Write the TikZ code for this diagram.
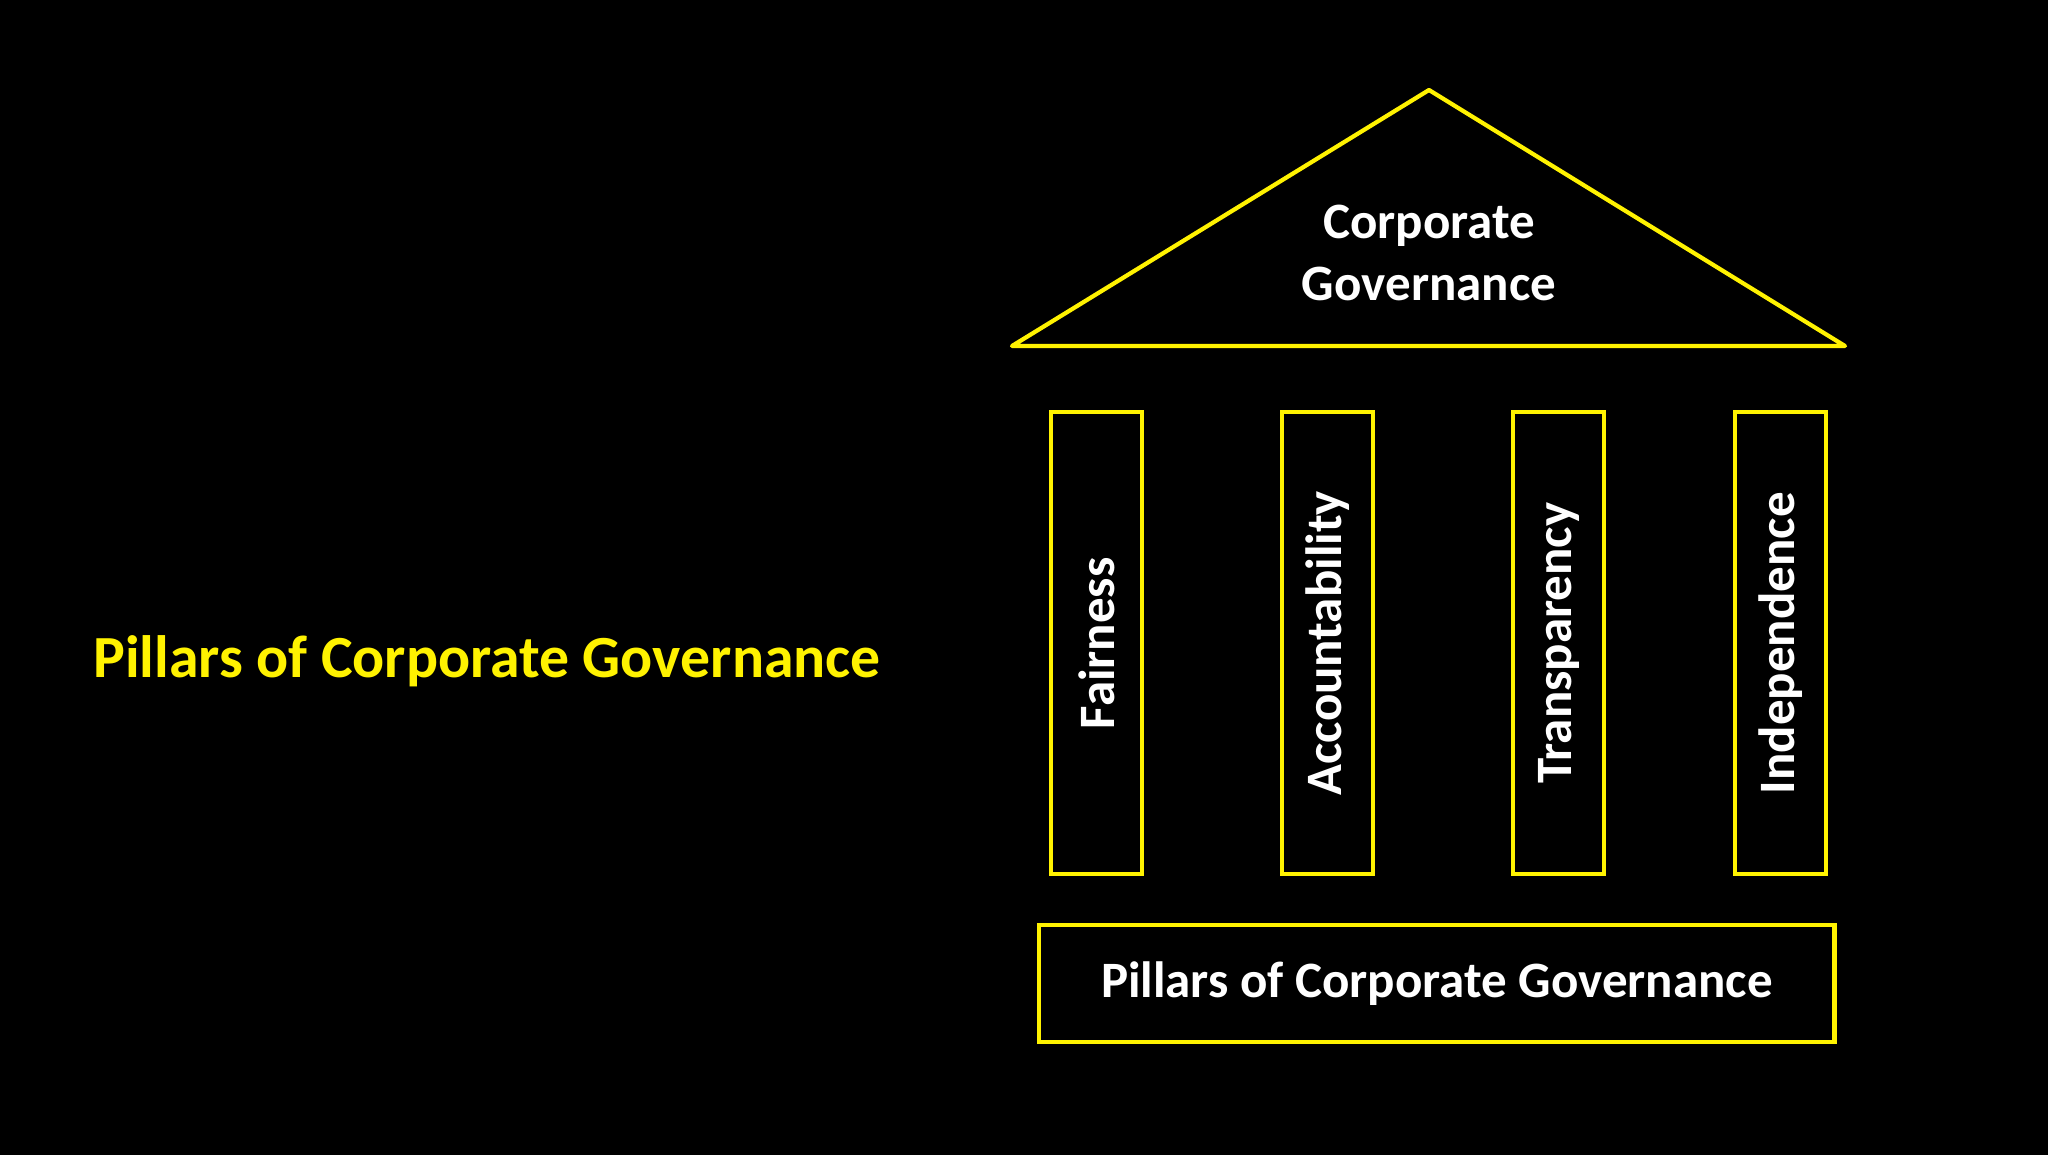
\documentclass[tikz,border=0pt]{standalone}
\usepackage{fontspec}
\setmainfont{Carlito}
\begin{document}
\begin{tikzpicture}[x=0.01cm,y=-0.01cm,
  ylw/.style={draw=yellow,line width=1.2pt},
  pillar/.style={ylw,minimum width=0.91cm,minimum height=4.62cm,anchor=north west,inner sep=0pt},
  ptxt/.style={text=white,font=\bfseries\fontsize{14.5}{17}\selectfont,rotate=90}]
\fill[black] (0,0) rectangle (2048,1155);
\useasboundingbox (0,0) rectangle (2048,1155);
\draw[ylw,line join=round] (1429,90) -- (1845,346) -- (1012,346) -- cycle;
\node (roof) [text=white,align=center,font=\bfseries\fontsize{14.5}{17.5}\selectfont] at (1429,253) {Corporate\\Governance};
\node (p1) [pillar] at (1049,410) {};
\node (p2) [pillar] at (1280,410) {};
\node (p3) [pillar] at (1511,410) {};
\node (p4) [pillar] at (1733,410) {};
\node (t1) [ptxt] at (p1.center) {Fairness};
\node (t2) [ptxt] at (p2.center) {Accountability};
\node (t3) [ptxt] at (p3.center) {Transparency};
\node (t4) [ptxt] at (p4.center) {Independence};
\node (base) [ylw,minimum width=7.95cm,minimum height=1.17cm,anchor=north west] at (1037,923) {};
\node (bt) [text=white,font=\bfseries\fontsize{14.5}{17}\selectfont] at (base.center) {Pillars of Corporate Governance};
\node (title) [text=yellow,font=\bfseries\fontsize{17}{20}\selectfont] at (487,661) {Pillars of Corporate Governance};
\end{tikzpicture}
\end{document}
